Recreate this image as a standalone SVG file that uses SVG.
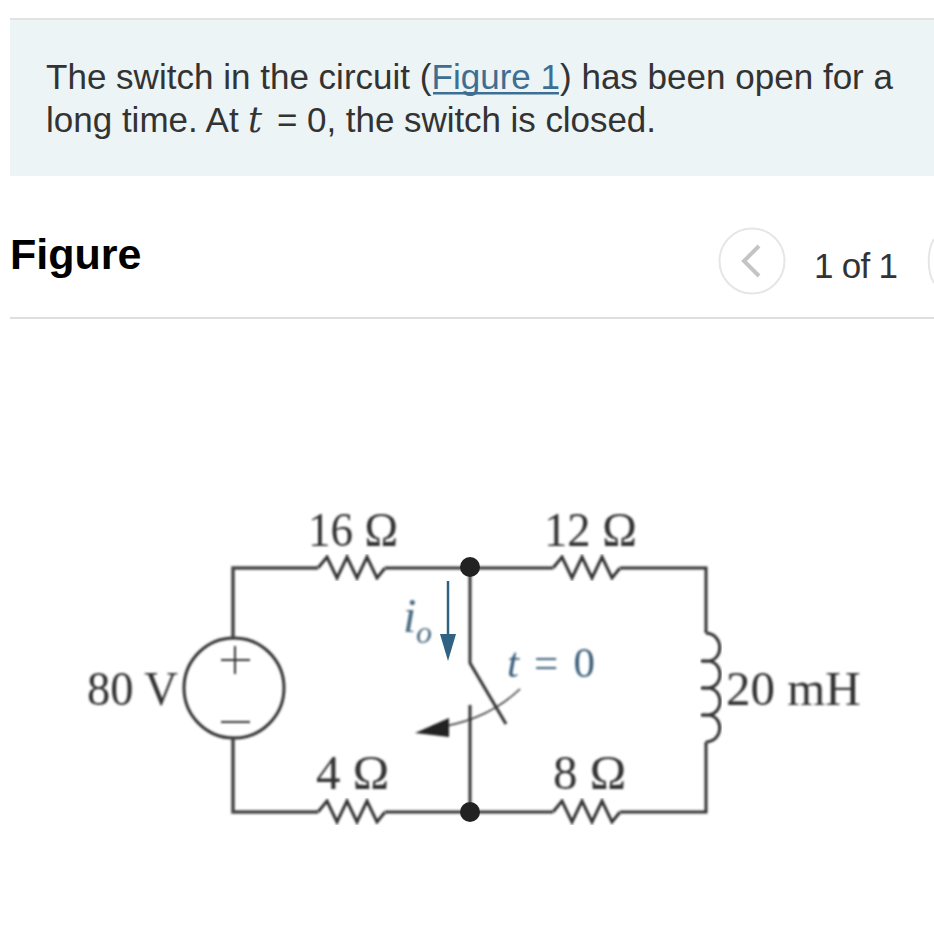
<svg xmlns="http://www.w3.org/2000/svg" width="934" height="931" viewBox="0 0 934 931">
<style>
.ui{font-family:"Liberation Sans",Arial,sans-serif;font-size:35px;fill:#333}
.c{font-family:"Liberation Serif","Times New Roman",serif;font-size:49px;fill:#333;filter:url(#b)}
.w{fill:none;stroke:#333;stroke-width:3;stroke-linejoin:miter;filter:url(#b)}
.t{fill:none;stroke:#333;stroke-width:3;filter:url(#b)}
</style>
<defs>
<filter id="b" x="-10%" y="-10%" width="120%" height="120%"><feGaussianBlur stdDeviation="0.8"/></filter>
</defs>
<rect width="934" height="931" fill="#fff"/>
<g id="prompt">
<rect x="10" y="18" width="924" height="2" fill="#e2e2e2"/>
<rect x="10" y="20" width="924" height="156" fill="#ecf4f6"/>
<text class="ui" x="46" y="89" textLength="847" lengthAdjust="spacing">The switch in the circuit (<tspan fill="#3e6f92">Figure 1</tspan>) has been open for a</text>
<rect x="433" y="92" width="126" height="2.5" fill="#3e6f92"/>
<text class="ui" x="46" y="132">long time. At</text>
<text x="248" y="132" font-family="'DejaVu Serif',serif" font-style="italic" font-size="35" fill="#333">t</text>
<text class="ui" x="277" y="132" textLength="379" lengthAdjust="spacing">= 0, the switch is closed.</text>
</g>
<g id="figure-header">
<text x="10" y="269" font-family="'Liberation Sans',Arial,sans-serif" font-size="43" font-weight="700" fill="#000">Figure</text>
<circle cx="752" cy="261" r="32.5" fill="#fff" stroke="#e6e6e6" stroke-width="2"/>
<path d="M759 246L744 261L759 276" fill="none" stroke="#c4c4c4" stroke-width="4"/>
<text class="ui" x="814" y="278" textLength="84">1 of 1</text>
<path d="M934 239C927 250 927 272 934 283" fill="none" stroke="#e6e6e6" stroke-width="2"/>
<rect x="10" y="317" width="924" height="2" fill="#dedede"/>
</g>
<g id="connectors">
<path class="w" style="stroke-width:3.5;stroke:#444" d="M233 638V568H318M318 812H233V738"/>
<path class="w" d="M385 568H470H553M620 568H706V633M706 742V812H620M553 812H470H385"/>
<path class="w" d="M470 568V663L506 724M470 705V812"/>
<path class="t" style="stroke-width:1.5" d="M432 728Q485 722 520 689"/>
<path d="M415 733L449 718V737Z" fill="#222" filter="url(#b)"/>
</g>
<g id="source-80v">
<circle class="t" cx="234" cy="688" r="50"/>
<path class="t" style="stroke-width:2" d="M221 660H250M235 646V674M221 722H250"/>
<text class="c" x="87" y="705" textLength="91" lengthAdjust="spacingAndGlyphs">80 V</text>
</g>
<g id="r16">
<path class="w" d="M318 568L327 557L337 578L347 557L357 578L367 557L377 578L385 568"/>
<text class="c" x="308" y="546" textLength="90" lengthAdjust="spacingAndGlyphs">16 Ω</text>
</g>
<g id="r12">
<path class="w" d="M553 568L562 557L572 578L582 557L592 578L602 557L612 578L620 568"/>
<text class="c" x="544" y="546" textLength="93" lengthAdjust="spacingAndGlyphs">12 Ω</text>
</g>
<g id="r4">
<path class="w" d="M318 812L327 801L337 822L347 801L357 822L367 801L377 822L385 812"/>
<text class="c" x="316" y="789">4 Ω</text>
</g>
<g id="r8">
<path class="w" d="M553 812L562 801L572 822L582 801L592 822L602 801L612 822L620 812"/>
<text class="c" x="553" y="789">8 Ω</text>
</g>
<g id="l20">
<path class="w" d="M706 633C724 634 724 660 708 661C700 662 700 660 708 661C724 662 724 687 708 688C700 689 700 687 708 688C724 689 724 714 708 715C700 716 700 714 708 715C724 716 724 741 706 742"/>
<text class="c" x="726" y="705">20 mH</text>
</g>
<g id="node-top"><circle cx="470" cy="567" r="10" fill="#222"/></g>
<g id="node-bottom"><circle cx="470" cy="812" r="10" fill="#222"/></g>
<g id="current-io">
<path d="M448 581V640" stroke="#2f6283" stroke-width="2.5" fill="none"/>
<path d="M440 634H456L448 661Z" fill="#2f6283"/>
<text x="403" y="632" font-family="'Liberation Serif',serif" font-style="italic" font-size="48" fill="#4a6a80" filter="url(#b)">i</text>
<text x="416" y="643" font-family="'Liberation Serif',serif" font-style="italic" font-size="32" fill="#4a6a80" filter="url(#b)">o</text>
</g>
<g id="switch-label">
<text x="507" y="677" font-family="'Liberation Serif',serif" font-size="43" fill="#3d5f7a" filter="url(#b)" textLength="88"><tspan font-style="italic">t</tspan> = 0</text>
</g>
</svg>
